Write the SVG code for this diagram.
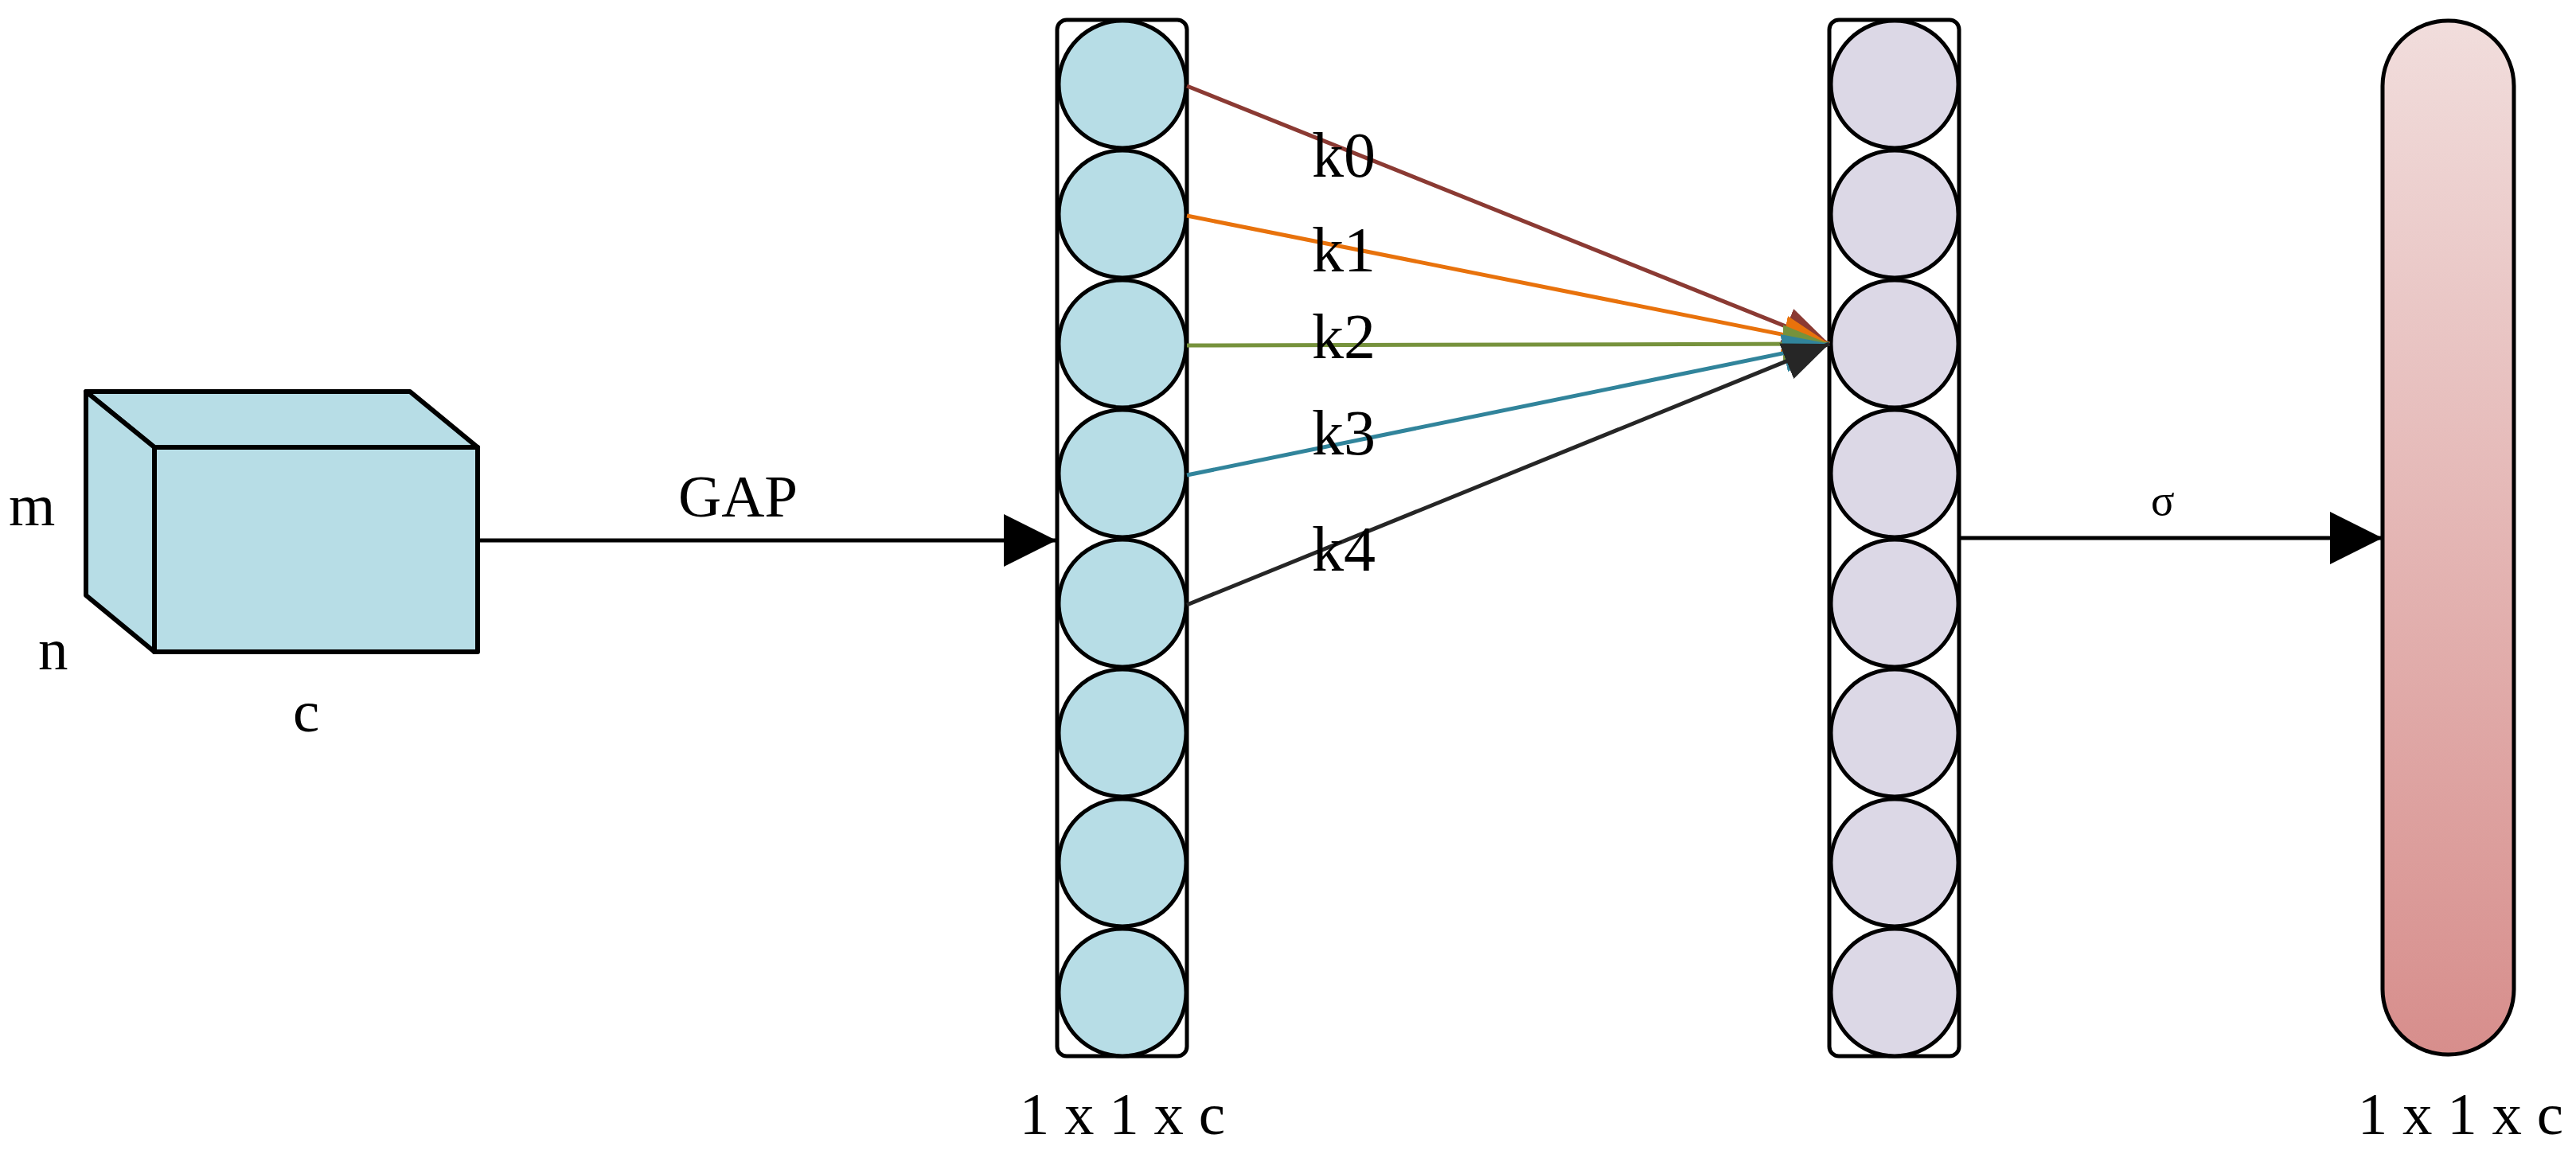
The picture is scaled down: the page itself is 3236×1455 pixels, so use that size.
<svg xmlns="http://www.w3.org/2000/svg" width="3236" height="1455" viewBox="0 0 3236 1455">
<style>
.t{font-family:"Liberation Serif","Times New Roman",serif;fill:#000}
.c1{fill:#b7dde6;stroke:#000;stroke-width:5}
.c2{fill:#dcd8e6;stroke:#000;stroke-width:5}
.frame{fill:none;stroke:#000;stroke-width:5}
.cube{fill:#b7dde6;stroke:#000;stroke-width:6;stroke-linejoin:round}
</style>
<defs>
<linearGradient id="pg" x1="0" y1="0" x2="0" y2="1"><stop offset="0" stop-color="#f1dddc"/><stop offset="1" stop-color="#d78e8c"/></linearGradient>
<marker id="mb" markerUnits="userSpaceOnUse" markerWidth="70" markerHeight="70" refX="66" refY="33" orient="auto"><path d="M0,0L66,33L0,66Z" fill="#000"/></marker>
<marker id="m0" markerUnits="userSpaceOnUse" markerWidth="60" markerHeight="50" refX="58" refY="24" orient="auto"><path d="M0,0L58,24L0,48Z" fill="#8b3a33"/></marker>
<marker id="m1" markerUnits="userSpaceOnUse" markerWidth="60" markerHeight="50" refX="58" refY="24" orient="auto"><path d="M0,0L58,24L0,48Z" fill="#e8720c"/></marker>
<marker id="m2" markerUnits="userSpaceOnUse" markerWidth="60" markerHeight="50" refX="58" refY="24" orient="auto"><path d="M0,0L58,24L0,48Z" fill="#76923c"/></marker>
<marker id="m3" markerUnits="userSpaceOnUse" markerWidth="60" markerHeight="50" refX="58" refY="24" orient="auto"><path d="M0,0L58,24L0,48Z" fill="#31849b"/></marker>
<marker id="m4" markerUnits="userSpaceOnUse" markerWidth="60" markerHeight="50" refX="58" refY="24" orient="auto"><path d="M0,0L58,24L0,48Z" fill="#262626"/></marker>
</defs>
<g id="cube">
<path class="cube" d="M108,492L515,492L600,562L194,562Z"/>
<path class="cube" d="M108,492L194,562L194,819L108,748Z"/>
<rect class="cube" x="194" y="562" width="406" height="257"/>
<text class="t" x="11" y="660" font-size="75">m</text>
<text class="t" x="48" y="841" font-size="75">n</text>
<text class="t" x="368" y="919" font-size="75">c</text>
</g>
<g id="col1">
<rect class="frame" x="1328" y="25" width="163" height="1302" rx="12"/>
<circle class="c1" cx="1410" cy="106" r="80"/>
<circle class="c1" cx="1410" cy="269" r="80"/>
<circle class="c1" cx="1410" cy="432" r="80"/>
<circle class="c1" cx="1410" cy="595" r="80"/>
<circle class="c1" cx="1410" cy="758" r="80"/>
<circle class="c1" cx="1410" cy="921" r="80"/>
<circle class="c1" cx="1410" cy="1084" r="80"/>
<circle class="c1" cx="1410" cy="1247" r="80"/>
<text class="t" x="1410" y="1425" font-size="75" text-anchor="middle">1 x 1 x c</text>
</g>
<g id="col2">
<rect class="frame" x="2298" y="25" width="163" height="1302" rx="12"/>
<circle class="c2" cx="2380" cy="106" r="80"/>
<circle class="c2" cx="2380" cy="269" r="80"/>
<circle class="c2" cx="2380" cy="432" r="80"/>
<circle class="c2" cx="2380" cy="595" r="80"/>
<circle class="c2" cx="2380" cy="758" r="80"/>
<circle class="c2" cx="2380" cy="921" r="80"/>
<circle class="c2" cx="2380" cy="1084" r="80"/>
<circle class="c2" cx="2380" cy="1247" r="80"/>
</g>
<g id="out">
<rect x="2993" y="26" width="165" height="1299" rx="82" fill="url(#pg)" stroke="#000" stroke-width="5"/>
<text class="t" x="3091" y="1425" font-size="75" text-anchor="middle">1 x 1 x c</text>
</g>
<g id="connectors" fill="none" stroke-width="5">
<line x1="600" y1="679" x2="1327" y2="679" stroke="#000" marker-end="url(#mb)"/>
<text class="t" x="852" y="649" font-size="75">GAP</text>
<line x1="2461" y1="676" x2="2993" y2="676" stroke="#000" marker-end="url(#mb)"/>
<text class="t" x="2702" y="647" font-size="55">σ</text>
<line x1="1491" y1="108" x2="2298" y2="432" stroke="#8b3a33" marker-end="url(#m0)"/>
<line x1="1491" y1="271" x2="2298" y2="432" stroke="#e8720c" marker-end="url(#m1)"/>
<line x1="1491" y1="434" x2="2298" y2="432" stroke="#76923c" marker-end="url(#m2)"/>
<line x1="1491" y1="597" x2="2298" y2="432" stroke="#31849b" marker-end="url(#m3)"/>
<line x1="1491" y1="760" x2="2298" y2="432" stroke="#262626" marker-end="url(#m4)"/>
<text class="t" x="1648" y="222" font-size="80">k0</text>
<text class="t" x="1648" y="341" font-size="80">k1</text>
<text class="t" x="1648" y="450" font-size="80">k2</text>
<text class="t" x="1648" y="571" font-size="80">k3</text>
<text class="t" x="1648" y="717" font-size="80">k4</text>
</g>
</svg>
